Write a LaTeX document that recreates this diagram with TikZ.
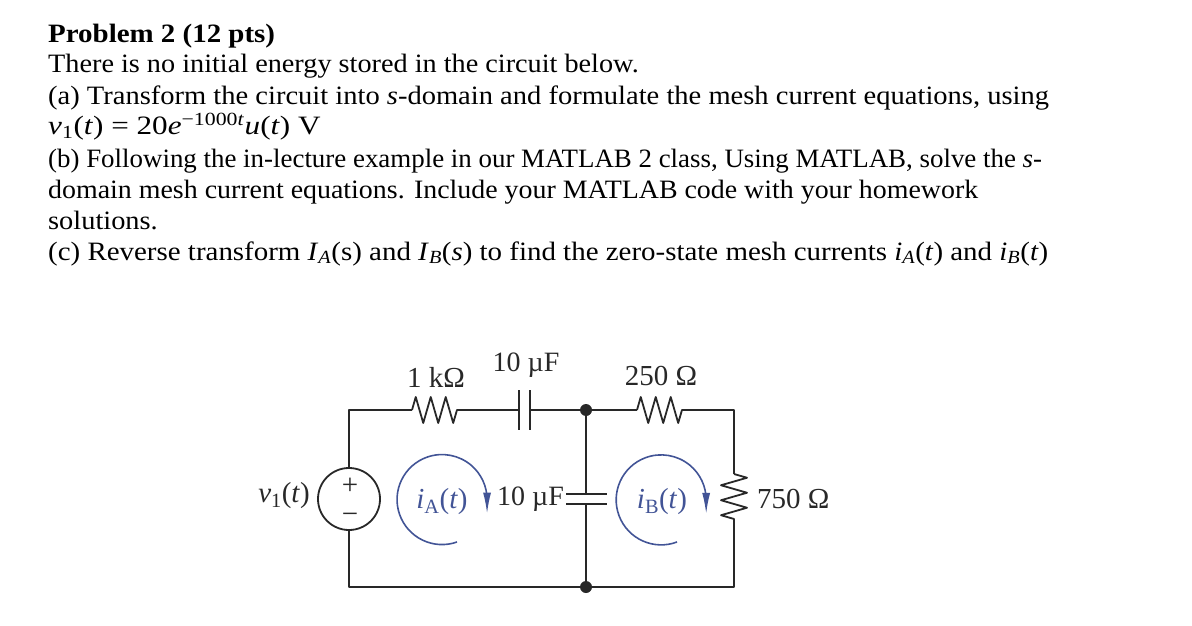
\documentclass[tikz,border=0pt]{standalone}
\usepackage{graphicx}
\usepackage{fontspec}
\setmainfont{Liberation Serif}
\newfontfamily\probfont[FakeStretch=1.05]{Liberation Serif}
\usetikzlibrary{arrows.meta,decorations.pathmorphing}
\definecolor{loopblue}{RGB}{66,84,150}
\definecolor{wire}{RGB}{40,40,40}
\tikzset{
	probline/.style={anchor=base west,inner sep=0pt,font=\probfont\fontsize{26.5}{30}\selectfont},
	partlabel/.style={inner sep=0pt,text=wire,font=\fontsize{29}{32}\selectfont},
	looplabel/.style={inner sep=0pt,text=loopblue,font=\fontsize{29}{32}\selectfont},
	resistor/.style={decorate,decoration={zigzag,segment length=14.99pt,amplitude=13pt}},
	meshloop/.style={draw=loopblue,line width=1.6pt,-{Latex[length=21pt,width=8pt]}},
	junction/.style={circle,fill=wire,inner sep=0pt,minimum size=12pt}
}
\begin{document}
\begin{tikzpicture}[x=1pt,y=-1pt,line join=round,>=stealth]
		\useasboundingbox (0,0) rectangle (1192,626);
		% problem text
		\node[probline] (p1) at (48,43) {\scalebox{1.04}[1]{\textbf{Problem 2 (12 pts)}}};
		\node[probline] (p2) at (48,73) {\scalebox{1.015}[1]{There is no initial energy stored in the circuit below.}};
		\node[probline] (p3) at (48,104) {\scalebox{1.025}[1]{(a) Transform the circuit into \textit{s}-domain and formulate the mesh current equations, using}};
		\node[probline] (p4) at (48,135) {\scalebox{1.12}[1]{\textit{v}\textsubscript{1}(\textit{t}) = 20\textit{e}\textsuperscript{\textminus1000\textit{t}}\textit{u}(\textit{t}) V}};
		\node[probline] (p5) at (48,167) {\scalebox{0.967}[1]{(b) Following the in-lecture example in our MATLAB 2 class, Using MATLAB, solve the \textit{s}-}};
		\node[probline] (p6) at (48,198) {\scalebox{1.003}[1]{domain mesh current equations. Include your MATLAB code with your homework}};
		\node[probline] (p7) at (48,229) {\scalebox{1.02}[1]{solutions.}};
		\node[probline] (p8) at (48,260) {\scalebox{1.04}[1]{(c) Reverse transform \textit{I}\textsubscript{\textit{A}}(s) and \textit{I}\textsubscript{\textit{B}}(\textit{s}) to find the zero-state mesh currents \textit{i}\textsubscript{\textit{A}}(\textit{t}) and \textit{i}\textsubscript{\textit{B}}(\textit{t})}};
		% circuit
		\node[draw=wire,line width=1.8pt,circle,minimum size=62pt,inner sep=0pt] (src) at (349,499) {};
		\coordinate (TL) at (349,410);
		\coordinate (BL) at (349,587);
		\coordinate (TR) at (734,410);
		\coordinate (BR) at (734,587);
		\coordinate (Ra) at (412,410);
		\coordinate (Rb) at (457,410);
		\coordinate (Ca) at (519,410);
		\coordinate (Cb) at (530,410);
		\coordinate (Sa) at (637,410);
		\coordinate (Sb) at (683,410);
		\coordinate (Ua) at (734,474);
		\coordinate (Ub) at (734,523);
		\coordinate (Da) at (586,494);
		\coordinate (Db) at (586,504);
		\node[junction] (top) at (586,410) {};
		\node[junction] (bot) at (586,587) {};
		\begin{scope}[draw=wire,line width=1.8pt]
		\draw (src.north)--(TL)--(Ra);
		\draw[resistor] (Ra)--(Rb);
		\draw (Rb)--(Ca) (Cb)--(top)--(Sa);
		\draw[resistor] (Sa)--(Sb);
		\draw (Sb)--(TR)--(Ua);
		\draw[resistor] (Ua)--(Ub);
		\draw (Ub)--(BR)--(bot)--(BL)--(src.south);
		\draw (top)--(Da) (Db)--(bot);
		% capacitor plates
		\draw ([yshift=20pt]Ca)--([yshift=-20pt]Ca) ([yshift=20pt]Cb)--([yshift=-20pt]Cb);
		\draw ([xshift=-20pt]Da)--([xshift=21pt]Da) ([xshift=-20pt]Db)--([xshift=21pt]Db);
		\end{scope}
		% mesh currents
		\draw[meshloop] (457,542) arc[start angle=-70.6,end angle=-360,radius=45pt]--++(0,14);
		\draw[meshloop] (677,542) arc[start angle=-69.4,end angle=-360,radius=45pt]--++(0,14);
		% labels
		\node[partlabel,anchor=base] (srcplus) at (350,494) {+};
		\node[partlabel,anchor=base] (srcminus) at (350,523) {\textminus};
		\node[partlabel] (vlabel) at (284,496) {\textit{v}\textsubscript{1}(\textit{t})};
		\node[partlabel] (rlabela) at (436,377) {1 kΩ};
		\node[partlabel,font=\fontsize{28}{32}\selectfont] (clabela) at (526,365) {10 µF};
		\node[partlabel] (rlabelb) at (661,376) {250 Ω};
		\node[partlabel,anchor=west,font=\fontsize{28}{32}\selectfont] (clabelb) at (497,499) {10 µF};
		\node[partlabel,anchor=west] (rlabelc) at (757,499) {750 Ω};
		\node[looplabel] (ialabel) at (442,502) {\textit{i}\textsubscript{A}(\textit{t})};
		\node[looplabel] (iblabel) at (662,502) {\textit{i}\textsubscript{B}(\textit{t})};
\end{tikzpicture}
\end{document}
